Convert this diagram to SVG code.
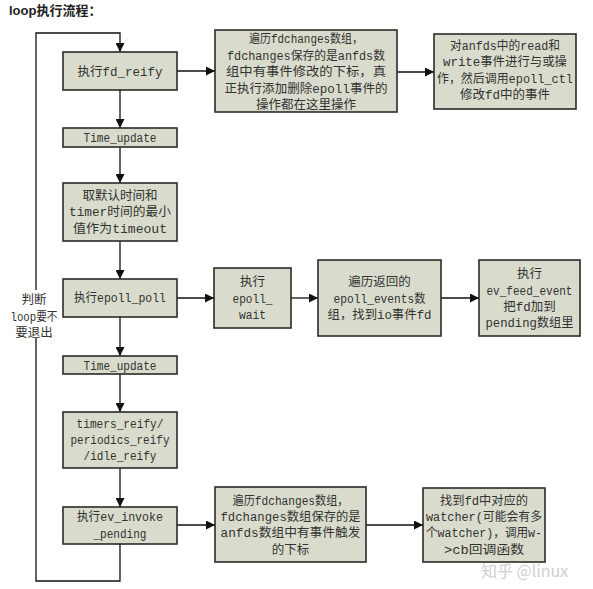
<svg xmlns="http://www.w3.org/2000/svg" width="593" height="589" viewBox="0 0 593 589">
<defs>
<marker id="ah" viewBox="0 0 10 10" refX="10" refY="5" markerWidth="9" markerHeight="9" markerUnits="userSpaceOnUse" orient="auto">
<path d="M0,0 L10,5 L0,10 z" fill="#111"/>
</marker>
<style>
.box{fill:#d9dccc;stroke:#2a2a2a;stroke-width:1.6}
.t{font-family:"Liberation Mono","Noto Sans CJK SC",monospace;font-size:12.5px;fill:#333;text-anchor:middle}
.c{fill:none;stroke:#111;stroke-width:1.3}
</style>
</defs>
<rect width="593" height="589" fill="#fff"/>
<text x="9" y="15" style="font-family:'Liberation Sans','Noto Sans CJK SC',sans-serif;font-size:13px;font-weight:bold;fill:#222">loop执行流程：</text>

<g id="connectors">
<path class="c" d="M120,544 V581 H36 V33 H120 V52" marker-end="url(#ah)"/>
<path class="c" d="M120,90 V128" marker-end="url(#ah)"/>
<path class="c" d="M120,147 V183" marker-end="url(#ah)"/>
<path class="c" d="M120,241 V279" marker-end="url(#ah)"/>
<path class="c" d="M120,317 V356" marker-end="url(#ah)"/>
<path class="c" d="M120,374 V412" marker-end="url(#ah)"/>
<path class="c" d="M120,468 V507" marker-end="url(#ah)"/>
<path class="c" d="M177,71 H215" marker-end="url(#ah)"/>
<path class="c" d="M397,72 H434" marker-end="url(#ah)"/>
<path class="c" d="M177,298 H214" marker-end="url(#ah)"/>
<path class="c" d="M291,298 H318" marker-end="url(#ah)"/>
<path class="c" d="M441,298 H479" marker-end="url(#ah)"/>
<path class="c" d="M177,525 H215" marker-end="url(#ah)"/>
<path class="c" d="M366,525 H423" marker-end="url(#ah)"/>
</g>

<g id="loop-label">
<rect x="10" y="290" width="48" height="48" fill="#fff"/>
<text class="t" x="34" y="304">判断</text>
<text class="t" x="34" y="320.5" textLength="47" lengthAdjust="spacingAndGlyphs">loop要不</text>
<text class="t" x="34" y="337">要退出</text>
</g>

<g id="fd_reify">
<rect class="box" x="63" y="52" width="114" height="38"/>
<text class="t" x="120" y="75.5">执行fd_reify</text>
</g>
<g id="fdchanges1">
<rect class="box" x="215" y="30" width="182" height="82"/>
<text class="t" x="306" y="43" textLength="114" lengthAdjust="spacingAndGlyphs">遍历fdchanges数组，</text>
<text class="t" x="306" y="59.5" textLength="158" lengthAdjust="spacingAndGlyphs">fdchanges保存的是anfds数</text>
<text class="t" x="306" y="76" textLength="160" lengthAdjust="spacingAndGlyphs">组中有事件修改的下标，真</text>
<text class="t" x="306" y="92.5" textLength="163" lengthAdjust="spacingAndGlyphs">正执行添加删除epoll事件的</text>
<text class="t" x="306" y="109">操作都在这里操作</text>
</g>
<g id="anfds">
<rect class="box" x="434" y="34" width="142" height="75"/>
<text class="t" x="505" y="49.5" textLength="110" lengthAdjust="spacingAndGlyphs">对anfds中的read和</text>
<text class="t" x="505" y="66" textLength="124" lengthAdjust="spacingAndGlyphs">write事件进行与或操</text>
<text class="t" x="505" y="82.5" textLength="136" lengthAdjust="spacingAndGlyphs">作，然后调用epoll_ctl</text>
<text class="t" x="505" y="99">修改fd中的事件</text>
</g>
<g id="time_update1">
<rect class="box" x="63" y="128" width="114" height="19"/>
<text class="t" x="120" y="142" textLength="73" lengthAdjust="spacingAndGlyphs">Time_update</text>
</g>
<g id="timeout">
<rect class="box" x="63" y="183" width="114" height="58"/>
<text class="t" x="120" y="199.5">取默认时间和</text>
<text class="t" x="120" y="216" textLength="102" lengthAdjust="spacingAndGlyphs">timer时间的最小</text>
<text class="t" x="120" y="232.5" textLength="94" lengthAdjust="spacingAndGlyphs">值作为timeout</text>
</g>
<g id="epoll_poll">
<rect class="box" x="63" y="279" width="114" height="38"/>
<text class="t" x="120" y="302" textLength="92" lengthAdjust="spacingAndGlyphs">执行epoll_poll</text>
</g>
<g id="epoll_wait">
<rect class="box" x="214" y="268" width="77" height="60"/>
<text class="t" x="252.5" y="286">执行</text>
<text class="t" x="252.5" y="302.5" textLength="40" lengthAdjust="spacingAndGlyphs">epoll_</text>
<text class="t" x="252.5" y="318.5" textLength="27" lengthAdjust="spacingAndGlyphs">wait</text>
</g>
<g id="epoll_events">
<rect class="box" x="318" y="260" width="123" height="76"/>
<text class="t" x="379.5" y="286">遍历返回的</text>
<text class="t" x="379.5" y="302.5" textLength="92" lengthAdjust="spacingAndGlyphs">epoll_events数</text>
<text class="t" x="379.5" y="318.5" textLength="104" lengthAdjust="spacingAndGlyphs">组，找到io事件fd</text>
</g>
<g id="ev_feed_event">
<rect class="box" x="479" y="260" width="101" height="76"/>
<text class="t" x="529.5" y="278">执行</text>
<text class="t" x="529.5" y="294.5" textLength="86" lengthAdjust="spacingAndGlyphs">ev_feed_event</text>
<text class="t" x="529.5" y="310.5">把fd加到</text>
<text class="t" x="529.5" y="327" textLength="88" lengthAdjust="spacingAndGlyphs">pending数组里</text>
</g>
<g id="time_update2">
<rect class="box" x="63" y="356" width="114" height="18"/>
<text class="t" x="120" y="369.5" textLength="73" lengthAdjust="spacingAndGlyphs">Time_update</text>
</g>
<g id="reify">
<rect class="box" x="63" y="412" width="114" height="56"/>
<text class="t" x="120" y="427.5" textLength="87" lengthAdjust="spacingAndGlyphs">timers_reify/</text>
<text class="t" x="120" y="444" textLength="99" lengthAdjust="spacingAndGlyphs">periodics_reify</text>
<text class="t" x="120" y="460" textLength="73" lengthAdjust="spacingAndGlyphs">/idle_reify</text>
</g>
<g id="ev_invoke_pending">
<rect class="box" x="63" y="507" width="114" height="37"/>
<text class="t" x="120" y="521" textLength="86" lengthAdjust="spacingAndGlyphs">执行ev_invoke</text>
<text class="t" x="120" y="537.5" textLength="53" lengthAdjust="spacingAndGlyphs">_pending</text>
</g>
<g id="fdchanges2">
<rect class="box" x="215" y="487" width="151" height="75"/>
<text class="t" x="290.5" y="504.5" textLength="116" lengthAdjust="spacingAndGlyphs">遍历fdchanges数组，</text>
<text class="t" x="290.5" y="521" textLength="140" lengthAdjust="spacingAndGlyphs">fdchanges数组保存的是</text>
<text class="t" x="290.5" y="537" textLength="140" lengthAdjust="spacingAndGlyphs">anfds数组中有事件触发</text>
<text class="t" x="290.5" y="553.5">的下标</text>
</g>
<g id="watcher">
<rect class="box" x="423" y="488" width="122" height="74"/>
<text class="t" x="484" y="504.5" textLength="88" lengthAdjust="spacingAndGlyphs">找到fd中对应的</text>
<text class="t" x="484" y="521" textLength="116" lengthAdjust="spacingAndGlyphs">watcher(可能会有多</text>
<text class="t" x="484" y="537" textLength="116" lengthAdjust="spacingAndGlyphs">个watcher)，调用w-</text>
<text class="t" x="484" y="553.5" textLength="80" lengthAdjust="spacingAndGlyphs">&gt;cb回调函数</text>
</g>
<text x="481" y="577" style="font-family:'Noto Sans CJK SC',sans-serif;font-size:16px;fill:#c8c8c8;opacity:0.85">知乎 @linux</text>
</svg>
